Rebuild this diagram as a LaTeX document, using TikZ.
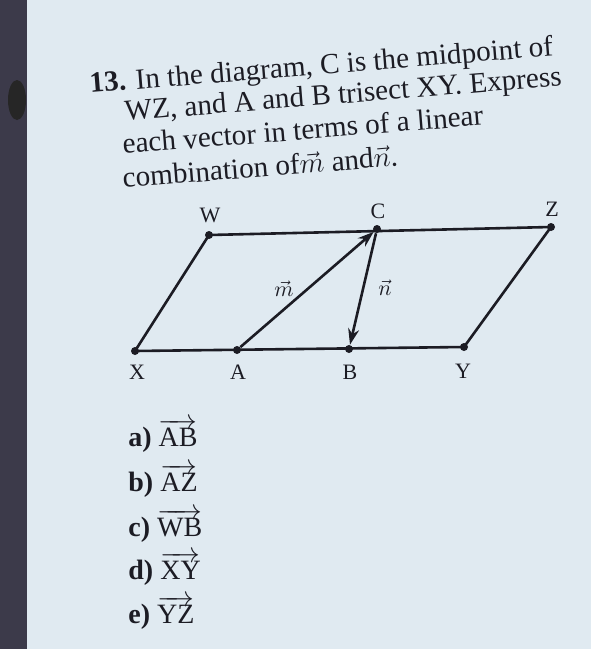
\documentclass[tikz,border=0pt]{standalone}
\usepackage{fontspec}
\setmainfont{Liberation Serif}
\usetikzlibrary{arrows.meta}
\definecolor{paper}{RGB}{224,234,241}
\definecolor{ink}{RGB}{28,28,36}
\definecolor{spine}{RGB}{60,58,74}

\begin{document}
\begin{tikzpicture}[x=0.5pt,y=-0.5pt]
		\tikzset{dot/.style = {circle, fill=ink, inner sep=0pt, minimum size=4pt}}
		\tikzset{edge/.style = {draw=ink, line width=1.3pt}}
		\tikzset{vec/.style = {edge, -{Stealth[length=8pt,width=5.5pt]}}}
		\tikzset{ptlabel/.style = {text=ink, font=\fontsize{11}{13}\selectfont}}
		\tikzset{prose/.style = {text=ink, anchor=base west, rotate=4.6, inner sep=0pt, font=\fontsize{14.6}{16}\selectfont}}
		\tikzset{listitem/.style = {text=ink, anchor=base west, inner sep=0pt, font=\fontsize{14}{16}\selectfont}}
		
		% page and spine
		\fill[paper] (0,0) rectangle (591,649);
		\fill[spine] (0,0) rectangle (27,649);
		\fill[black!85] (17,100) ellipse (9 and 20);
		
		\node[prose] (l1) at ( 90,  93) {\textbf{13.} In the diagram, C is the midpoint of};
		\node[prose] (l2) at (125, 121) {WZ, and A and B trisect XY. Express};
		\node[prose] (l3) at (123, 154) {each vector in terms of a linear};
		\node[prose] (l4) at (123, 188) {combination of$\vec{m}$ and$\vec{n}$.};
		
		\node[dot] (W) at (209, 235) {};
		\node[dot] (C) at (377, 229) {};
		\node[dot] (Z) at (551, 227) {};
		\node[dot] (X) at (135, 351) {};
		\node[dot] (A) at (237, 350) {};
		\node[dot] (B) at (349, 349) {};
		\node[dot] (Y) at (464, 347) {};
		
		\node[ptlabel] (tW) at (210, 215) {W};
		\node[ptlabel] (tC) at (378, 211) {C};
		\node[ptlabel] (tZ) at (552, 209) {Z};
		\node[ptlabel] (tX) at (137, 372) {X};
		\node[ptlabel] (tA) at (238, 372) {A};
		\node[ptlabel] (tB) at (350, 372) {B};
		\node[ptlabel] (tY) at (463, 371) {Y};
		\node[ptlabel] (tm) at (284, 289) {$\vec{m}$};
		\node[ptlabel] (tn) at (385, 288) {$\vec{n}$};
		
		\draw[edge] (W.center) -- (Z.center) -- (Y.center) -- (X.center) -- cycle;
		\draw[vec] (A) to (C);
		\draw[vec] (C) to (B);
		
		\node[listitem] (a) at (128, 446) {\textbf{a)} $\overrightarrow{\mbox{AB}}$};
		\node[listitem] (b) at (128, 491) {\textbf{b)} $\overrightarrow{\mbox{AZ}}$};
		\node[listitem] (c) at (128, 536) {\textbf{c)} $\overrightarrow{\mbox{WB}}$};
		\node[listitem] (d) at (128, 579) {\textbf{d)} $\overrightarrow{\mbox{XY}}$};
		\node[listitem] (e) at (128, 623) {\textbf{e)} $\overrightarrow{\mbox{YZ}}$};
\end{tikzpicture}
\end{document}
